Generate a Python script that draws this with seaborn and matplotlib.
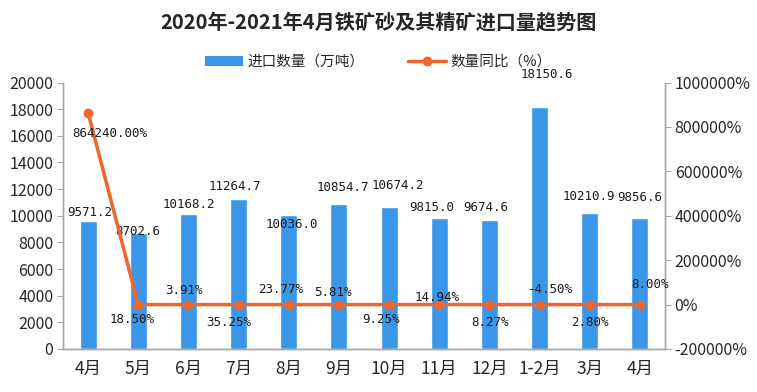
import matplotlib
matplotlib.use("Agg")
import matplotlib.pyplot as plt
import matplotlib.ticker as mticker
from matplotlib.lines import Line2D
from matplotlib.patches import Patch
import numpy as np
import pandas as pd
import seaborn as sns

# data
periods = ["2020-04", "2020-05", "2020-06", "2020-07", "2020-08", "2020-09",
           "2020-10", "2020-11", "2020-12", "2021-01/02", "2021-03", "2021-04"]
tick_labels = ["4月", "5月", "6月", "7月", "8月", "9月", "10月", "11月", "12月", "1-2月", "3月", "4月"]
volume = [9571.2, 8702.6, 10168.2, 11264.7, 10036.0, 10854.7, 10674.2, 9815.0, 9674.6, 18150.6, 10210.9, 9856.6]
yoy_pct = [864240.00, 18.50, 3.91, 35.25, 23.77, 5.81, 9.25, 14.94, 8.27, -4.50, 2.80, 8.00]

df = pd.DataFrame({"period": periods, "volume": volume, "yoy": yoy_pct})

# label offsets in pixels (dx, dy), tuned by eye
bar_off = [(2, 9), (0, 2), (0, 9), (-4, 12), (3, -9), (4, 17),
           (9, 21), (-8, 11), (-4, 13), (7, 33), (-1, 16), (0, 20)]
line_off = [(22, -21), (-6, -15), (-4, 14), (-10, -18), (-8, 15), (-6, 12),
            (-8, -15), (-2, 7), (1, -18), (11, 15), (0, -18), (10, 20)]

sns.set_style("white")
plt.rcParams["font.family"] = ["Noto Sans CJK SC", "DejaVu Sans"]
label_font = ["DejaVu Sans Mono", "Noto Sans CJK SC"]

bar_color = "#3a96e8"
line_color = "#f0652a"
axis_color = "#a6a6a6"

fig = plt.figure(figsize=(7.57, 3.92), dpi=100)
ax = fig.add_axes([0.0832, 0.1097, 0.7953, 0.6798])

sns.barplot(data=df, x="period", y="volume", color=bar_color, width=0.34,
            saturation=1, ax=ax)
ax.set_ylim(0, 20000)
ax.set_yticks(range(0, 20001, 2000))
ax.set_xlim(-0.5, len(periods) - 0.5)
ax.set_xticks(range(len(periods)))
ax.set_xticklabels(tick_labels, fontsize=12.5)
ax.set_xlabel("")
ax.set_ylabel("")
ax.tick_params(axis="y", labelsize=11.5, length=4, color=axis_color, pad=3)
ax.tick_params(axis="x", length=0, pad=8)
# category boundary ticks
ax.set_xticks(np.arange(-0.5, len(periods), 1), minor=True)
ax.tick_params(axis="x", which="minor", length=5, color=axis_color)

for i, v in enumerate(volume):
    dx, dy = bar_off[i]
    ax.annotate(f"{v:.1f}", (i, v), xytext=(dx, dy), textcoords="offset pixels",
                ha="center", va="center", fontsize=9, color="#1a1a1a",
                family=label_font)

ax2 = ax.twinx()
sns.lineplot(x=np.arange(len(periods)), y=yoy_pct, ax=ax2, color=line_color,
             linewidth=2.5, marker="o", markersize=7, markeredgewidth=0)
ax2.set_ylim(-200000, 1000000)
ax2.set_yticks(range(-200000, 1000001, 200000))
ax2.yaxis.set_major_formatter(mticker.FuncFormatter(lambda v, p: f"{int(v)}%"))
ax2.tick_params(axis="y", labelsize=11.5, length=4, color=axis_color, pad=3)

for i, v in enumerate(yoy_pct):
    dx, dy = line_off[i]
    ax2.annotate(f"{v:.2f}%", (i, v), xytext=(dx, dy), textcoords="offset pixels",
                 ha="center", va="center", fontsize=9, color="#1a1a1a",
                 family=label_font)

for a in (ax, ax2):
    a.spines["top"].set_visible(False)
    for s in ("left", "right", "bottom"):
        a.spines[s].set_color(axis_color)
        a.spines[s].set_linewidth(1)

handles = [Patch(facecolor=bar_color, edgecolor="none"),
           Line2D([0], [0], color=line_color, linewidth=2.5, marker="o", markersize=6)]
fig.legend(handles, ["进口数量（万吨）", "数量同比（%）"], loc="center",
           bbox_to_anchor=(0.5, 0.842), ncol=2, frameon=False, fontsize=10.5,
           handlelength=2.6, columnspacing=3, handletextpad=0.3)

fig.text(0.5, 0.944, "2020年-2021年4月铁矿砂及其精矿进口量趋势图", ha="center",
         va="center", fontsize=14.5, fontweight="bold")

fig.savefig("out.png", dpi=100)
